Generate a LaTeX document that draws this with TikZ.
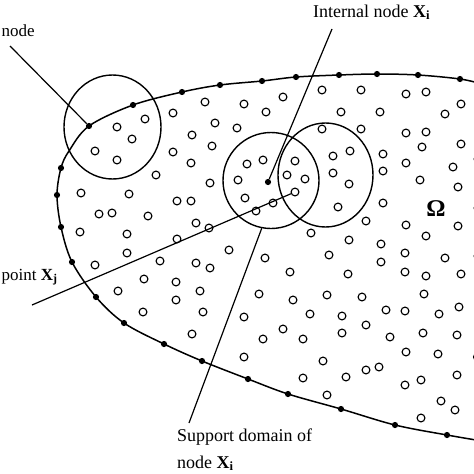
\documentclass[tikz,border=0pt]{standalone}
\usepackage{fontspec}
\setmainfont{Liberation Serif}
\usetikzlibrary{shapes.geometric}
\begin{document}
\begin{tikzpicture}[x=1pt,y=-1pt,
  fn/.style={circle,draw,line width=1.15pt,minimum size=7.8pt,inner sep=0pt},
  bn/.style={circle,fill,minimum size=6.2pt,inner sep=0pt},
  bound/.style={line width=1.5pt},
  dom/.style={draw,line width=1.4pt,inner sep=0pt},
  lead/.style={line width=1.2pt},
  lbl/.style={font=\fontsize{18}{22}\selectfont,inner sep=0pt}]
\useasboundingbox (0,0) rectangle (474,474);
% problem domain boundary
\draw[bound] plot[smooth,tension=0.55] coordinates {(482,84) (460,79) (418,75) (377,74) (339,75) (296,77) (262,81) (220,85) (182,92) (133,105) (89,126) (69,151) (61,168) (57,195) (61,227) (72,262) (96,297) (124,323) (164,344) (202,361) (248,379) (288,394) (341,409) (395,425) (447,435) (482,441)};
% boundary nodes
\foreach \x/\y [count=\i] in {460/79,418/75,377/74,339/75,296/77,262/81,220/85,182/92,133/105,61/168,57/195,61/227,72/262,96/297,124/323,164/344,202/361,248/379,288/394,341/409,395/425,447/435,476/357}
  \node[bn] (b\i) at (\x,\y) {};
\node[bn] (bnode) at (89,126) {};
% field nodes
\foreach \x/\y [count=\i] in {117/127,145/119,132/139,95/151,117/160,173/113,205/102,215/123,192/135,237/128,173/152,212/146,191/163,156/175,210/183,238/180,81/193,129/194,177/201,191/201,99/214,112/213,148/216,196/223,209/228,80/232,127/234,177/239,
322/90,361/90,406/94,426/92,244/104,283/97,266/112,341/112,380/112,461/104,445/114,322/129,361/129,406/133,426/132,422/147,461/144,247/164,263/160,295/161,333/156,350/151,383/154,406/163,453/167,287/175,305/179,333/173,383/171,420/180,458/187,349/184,245/198,273/203,256/211,338/207,383/203,366/221,406/225,458/226,311/233,349/240,426/236,
127/253,95/265,160/261,196/263,210/268,229/250,144/279,176/282,118/291,200/291,176/300,143/312,203/312,192/334,
381/244,265/258,329/255,381/262,405/253,445/258,290/272,348/274,405/272,426/276,461/274,259/294,293/300,327/295,362/297,424/294,386/310,405/311,439/314,459/307,244/317,310/314,342/316,283/329,366/325,263/339,303/339,342/333,390/337,423/333,457/335,406/352,438/354,244/357,323/361,379/367,366/370,346/377,303/378,405/385,421/380,457/375,327/395,441/401,455/410,421/418,
478/159,478/208,478/256}
  \node[fn] (f\i) at (\x,\y) {};
\node[fn] (fj) at (295,192) {};
\node[bn] (xi) at (268,182) {};
% support domains
\node[ellipse,dom,minimum width=97pt,minimum height=104pt] (dom1) at (112.5,127) {};
\node[circle,dom,minimum size=96pt] (dom2) at (271,180.5) {};
\node[ellipse,dom,minimum width=95pt,minimum height=104pt] (dom3) at (325.5,175) {};
% labels
\node[lbl,anchor=base west,font=\fontsize{17}{20}\selectfont] (lblb) at (1.5,36) {node};
\node[lbl,anchor=base west,font=\fontsize{17}{20}\selectfont] (lblj) at (1.5,280) {point \textbf{X}\textsubscript{\textbf{j}}};
\node[lbl,anchor=base west] (lbli) at (313,17) {Internal node \textbf{X}\textsubscript{\textbf{i}}};
\node[lbl,anchor=base west] (lbls1) at (177,441) {Support domain of};
\node[lbl,anchor=base west] (lbls2) at (177,468) {node \textbf{X}\textsubscript{\textbf{i}}};
\node[font=\fontsize{24}{26}\selectfont\bfseries,inner sep=0pt] (omega) at (436,209) {Ω};
% leaders
\coordinate (bntop) at (10,46);
\coordinate (xjend) at (32,305);
\coordinate (xitop) at (332,29);
\coordinate (suptop) at (189,423);
\draw[lead] (bntop) -- (bnode);
\draw[lead] (xjend) -- (fj);
\draw[lead] (xitop) -- (xi);
\draw[lead] (suptop) -- (dom2.259);
\end{tikzpicture}
\end{document}
